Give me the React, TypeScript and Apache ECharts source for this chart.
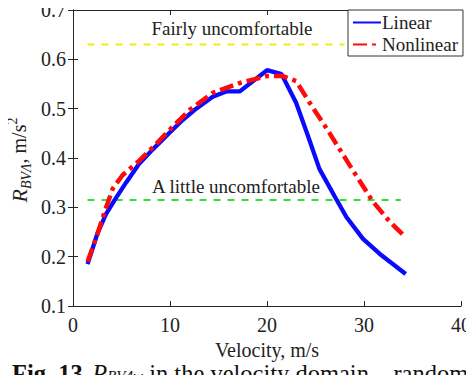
import React, { useEffect, useRef } from "react";
import * as echarts from "echarts";

const linearX = [1.5, 2.5, 3.4, 4.3, 5.5, 6.8, 8.2, 9.9, 11.3, 12.7, 14.4, 15.8, 17.2, 20.0, 21.5, 23.0, 24.2, 25.4, 27.1, 28.2, 29.9, 31.6, 34.3];
const linearY = [0.185, 0.246, 0.286, 0.315, 0.351, 0.388, 0.417, 0.45, 0.477, 0.5, 0.524, 0.535, 0.535, 0.578, 0.57, 0.512, 0.446, 0.378, 0.318, 0.28, 0.236, 0.206, 0.165];
const nonlinearX = [1.5, 2.4, 3.4, 4.1, 5.1, 6.8, 8.5, 10.3, 12.0, 14.4, 17.2, 20.0, 21.6, 23.0, 24.4, 26.4, 28.5, 30.9, 32.6, 34.3];
const nonlinearY = [0.19, 0.239, 0.299, 0.338, 0.365, 0.394, 0.427, 0.464, 0.497, 0.532, 0.552, 0.566, 0.566, 0.556, 0.512, 0.452, 0.386, 0.312, 0.272, 0.239];
const fairlyLevel = 0.63;
const fairlyRange = [1.5, 28];
const littleLevel = 0.315;
const littleRange = [1.5, 33.8];
const xTicks = { min: 0, max: 40, interval: 10 };
const yTicks = { min: 0.1, max: 0.7, interval: 0.1 };

const SERIF = '"Liberation Serif", "Times New Roman", serif';
const AXIS = "#262626";

export default function App() {
  const ref = useRef<HTMLDivElement>(null);
  useEffect(() => {
    if (!ref.current) return;
    const chart = echarts.init(ref.current, undefined, { renderer: "svg" });
    const pairs = (xs: number[], ys: number[]) => xs.map((x, i) => [x, ys[i]]);
    const hidden = {
      axisLabel: { show: false },
      splitLine: { show: false },
      axisLine: { show: true, lineStyle: { color: AXIS, width: 1 } },
      axisTick: { show: true, inside: true, length: 5, lineStyle: { color: AXIS } },
    };
    chart.setOption({
      animation: false,
      backgroundColor: "#fff",
      grid: { left: 73, right: 12, top: 6, bottom: 77, containLabel: false },
      xAxis: [
        {
          type: "value", ...xTicks, position: "bottom",
          axisLine: { show: true, lineStyle: { color: AXIS, width: 1 } },
          axisTick: { show: true, inside: true, length: 5, lineStyle: { color: AXIS } },
          splitLine: { show: false },
          axisLabel: { color: "#222", fontFamily: SERIF, fontSize: 20, margin: 9 },
          name: "Velocity, m/s", nameLocation: "middle", nameGap: 34,
          nameTextStyle: { color: "#222", fontFamily: SERIF, fontSize: 20, lineHeight: 20 },
        },
        { type: "value", ...xTicks, position: "top", ...hidden },
      ],
      yAxis: [
        {
          type: "value", ...yTicks, position: "left",
          axisLine: { show: true, lineStyle: { color: AXIS, width: 1 } },
          axisTick: { show: true, inside: true, length: 5, lineStyle: { color: AXIS } },
          splitLine: { show: false },
          axisLabel: { color: "#222", fontFamily: SERIF, fontSize: 20, margin: 7, formatter: (v: number) => v.toFixed(1) },
        },
        { type: "value", ...yTicks, position: "right", ...hidden },
      ],
      legend: {
        orient: "vertical", left: 348, top: 10, itemWidth: 28, itemHeight: 14, itemGap: 3,
        padding: [3, 5, 2, 4], borderColor: "#333", borderWidth: 1, backgroundColor: "#fff",
        itemStyle: { opacity: 0 },
        textStyle: { fontFamily: SERIF, fontSize: 19, color: "#222", padding: [0, 0, 0, -4] },
        data: ["Linear", "Nonlinear"],
      },
      series: [
        {
          name: "fairly", type: "line", symbol: "none", silent: true,
          data: [[fairlyRange[0], fairlyLevel], [fairlyRange[1], fairlyLevel]],
          lineStyle: { color: "#eeee10", width: 2, type: [7, 7] },
        },
        {
          name: "little", type: "line", symbol: "none", silent: true,
          data: [[littleRange[0], littleLevel], [littleRange[1], littleLevel]],
          lineStyle: { color: "#2ee22e", width: 2, type: [7, 7] },
        },
        {
          name: "Linear", type: "line", symbol: "none",
          data: pairs(linearX, linearY),
          itemStyle: { color: "#0a0aff" },
          lineStyle: { color: "#0a0aff", width: 4.3 },
        },
        {
          name: "Nonlinear", type: "line", symbol: "none",
          data: pairs(nonlinearX, nonlinearY),
          itemStyle: { color: "#ff0a0a" },
          lineStyle: { color: "#ff0a0a", width: 4.5, type: [14, 5, 4, 5] },
        },
      ],
      graphic: [
        {
          type: "text", x: 232, y: 38,
          style: { text: "Fairly uncomfortable", font: `19px ${SERIF}`, fill: "#222", align: "center", verticalAlign: "bottom" },
        },
        {
          type: "text", x: 236, y: 196,
          style: { text: "A little uncomfortable", font: `19px ${SERIF}`, fill: "#222", align: "center", verticalAlign: "bottom" },
        },
        {
          type: "text", x: 19, y: 160, rotation: Math.PI / 2,
          style: {
            text: "{i|R}{sub|BVΛ}{n|, m/s}{sup|2}",
            align: "center", verticalAlign: "middle", fill: "#222",
            rich: {
              i: { fontFamily: SERIF, fontSize: 22, fontStyle: "italic", lineHeight: 28, verticalAlign: "middle" },
              sub: { fontFamily: SERIF, fontSize: 14, fontStyle: "italic", lineHeight: 14, verticalAlign: "bottom" },
              n: { fontFamily: SERIF, fontSize: 20, lineHeight: 28, verticalAlign: "middle" },
              sup: { fontFamily: SERIF, fontSize: 14, lineHeight: 14, verticalAlign: "top" },
            },
          },
        },
        {
          type: "text", x: 12, y: 373,
          style: {
            text: "{b|Fig. 13.} {i|R}{sub|BV4w}{n| in the velocity domain – random}",
            align: "left", verticalAlign: "middle", fill: "#111",
            rich: {
              b: { fontFamily: SERIF, fontSize: 24.5, fontWeight: "bold", lineHeight: 20 },
              i: { fontFamily: SERIF, fontSize: 24.5, fontStyle: "italic", lineHeight: 20 },
              sub: { fontFamily: SERIF, fontSize: 15, fontStyle: "italic", lineHeight: 12, verticalAlign: "bottom" },
              n: { fontFamily: SERIF, fontSize: 24.5, lineHeight: 20 },
            },
          },
        },
      ],
    });
    return () => chart.dispose();
  }, []);
  return <div ref={ref} style={{ width: 474, height: 383, margin: -8 }} />;
}
